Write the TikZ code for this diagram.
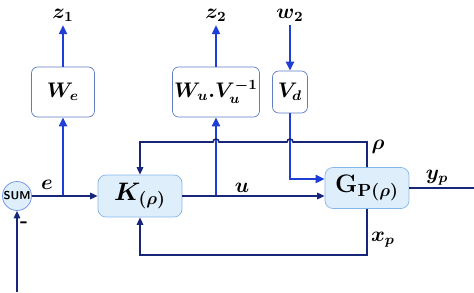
\documentclass[tikz,border=0pt]{standalone}
\usepackage{bm}
\usetikzlibrary{positioning,arrows.meta,calc}
\definecolor{SignalBlue}{RGB}{30,62,214}
\definecolor{LoopNavy}{RGB}{24,38,122}
\definecolor{WeightEdge}{RGB}{96,124,196}
\definecolor{PlantFill}{RGB}{222,238,251}
\definecolor{PlantEdge}{RGB}{132,182,232}
\tikzset{
  blueflow/.style={-{Triangle[length=1.8mm,width=1.6mm]},line width=1.1pt,draw=SignalBlue},
  blueline/.style={line width=1.1pt,draw=SignalBlue},
  navyflow/.style={-{Triangle[length=1.5mm,width=1.3mm]},line width=0.9pt,draw=LoopNavy},
  navyline/.style={line width=0.9pt,draw=LoopNavy},
  wbox/.style={draw=WeightEdge,fill=white,rounded corners=3.5pt,inner sep=1pt,
    minimum width=1.26cm,minimum height=1.0cm,align=center,font=\large\boldmath},
  plantbox/.style={draw=PlantEdge,fill=PlantFill,rounded corners=4.5pt,
    minimum width=1.68cm,minimum height=0.84cm,align=center,font=\Large\boldmath},
  sumnode/.style={circle,draw=PlantEdge!80!blue,fill=PlantFill,minimum size=0.58cm,
    inner sep=0pt,font=\sffamily\bfseries\fontsize{6.5}{7}\selectfont},
  sig/.style={inner sep=2pt,font=\large\boldmath}
}

\begin{document}
\begin{tikzpicture}[x=0.02cm,y=0.02cm]
  \useasboundingbox (0,0) rectangle (474,292);
  % blocks
  \node[sumnode] (sum) at (17,96) {SUM};
  \node[plantbox] (K) at (140,96) {$\bm{K}_{(\bm{\rho})}$};
  \node[plantbox,minimum height=0.82cm] (G) at (367,104) {$\mathbf{G}_{\mathbf{P}(\bm{\rho})}$};
  \node[wbox] (We) at (63,200) {$W_e$};
  \node[wbox] (Wu) at (216,200) {$W_u.V_u^{-1}$};
  \node[wbox,minimum width=0.7cm,minimum height=0.84cm] (Vd) at (290,200) {$V_d$};
  % exogenous signals
  \node[sig] (z1) at (63,277) {$z_1$};
  \node[sig] (z2) at (216,277) {$z_2$};
  \node[sig] (w2) at (290,277) {$w_2$};
  \coordinate (rin) at (17,0);
  \coordinate (yout) at (474,104);
  \coordinate (toploop) at (0,150);
  \coordinate (botloop) at (0,37);

  % weighted outputs and disturbance
  \draw[blueflow] (We.north) -- (z1.south);
  \draw[blueflow] (Wu.north) -- (z2.south);
  \draw[blueflow] (w2.south) -- (Vd.north);
  \draw[blueflow] (We.south |- sum.east) -- (We.south);
  \draw[blueflow] (Wu.south |- K.east) -- (Wu.south);
  \draw[blueflow] (Vd.south) |- ([yshift=0.18cm]G.west);

  % main loop
  \draw[navyflow] (rin) -- (sum.south);
  \draw[navyflow] (sum.east) -- (K.west);
  \draw[navyflow] (K.east) -- (K.east -| G.west);
  \draw[navyline] (G.east) -- (yout);
  \draw[navyflow] (G.north) |- ($(Vd.south |- toploop)+(3,0)$)
    arc[start angle=0,end angle=180,radius=3]
    -- ($(Wu.south |- toploop)+(3,0)$)
    arc[start angle=0,end angle=180,radius=3]
    -| (K.north);
  \draw[navyflow] (G.south) |- (K.south |- botloop) -- (K.south);

  % signal labels
  \node[sig] (elab) at (47,107) {$e$};
  \node[sig] (ulab) at (242,104) {$u$};
  \node[sig] (rholab) at (378,145) {$\rho$};
  \node[sig] (yplab) at (437,114) {$y_p$};
  \node[sig] (xplab) at (383,52) {$x_p$};
  \node[sig,font=\large\bfseries] (minus) at (24,67) {-};
\end{tikzpicture}
\end{document}
